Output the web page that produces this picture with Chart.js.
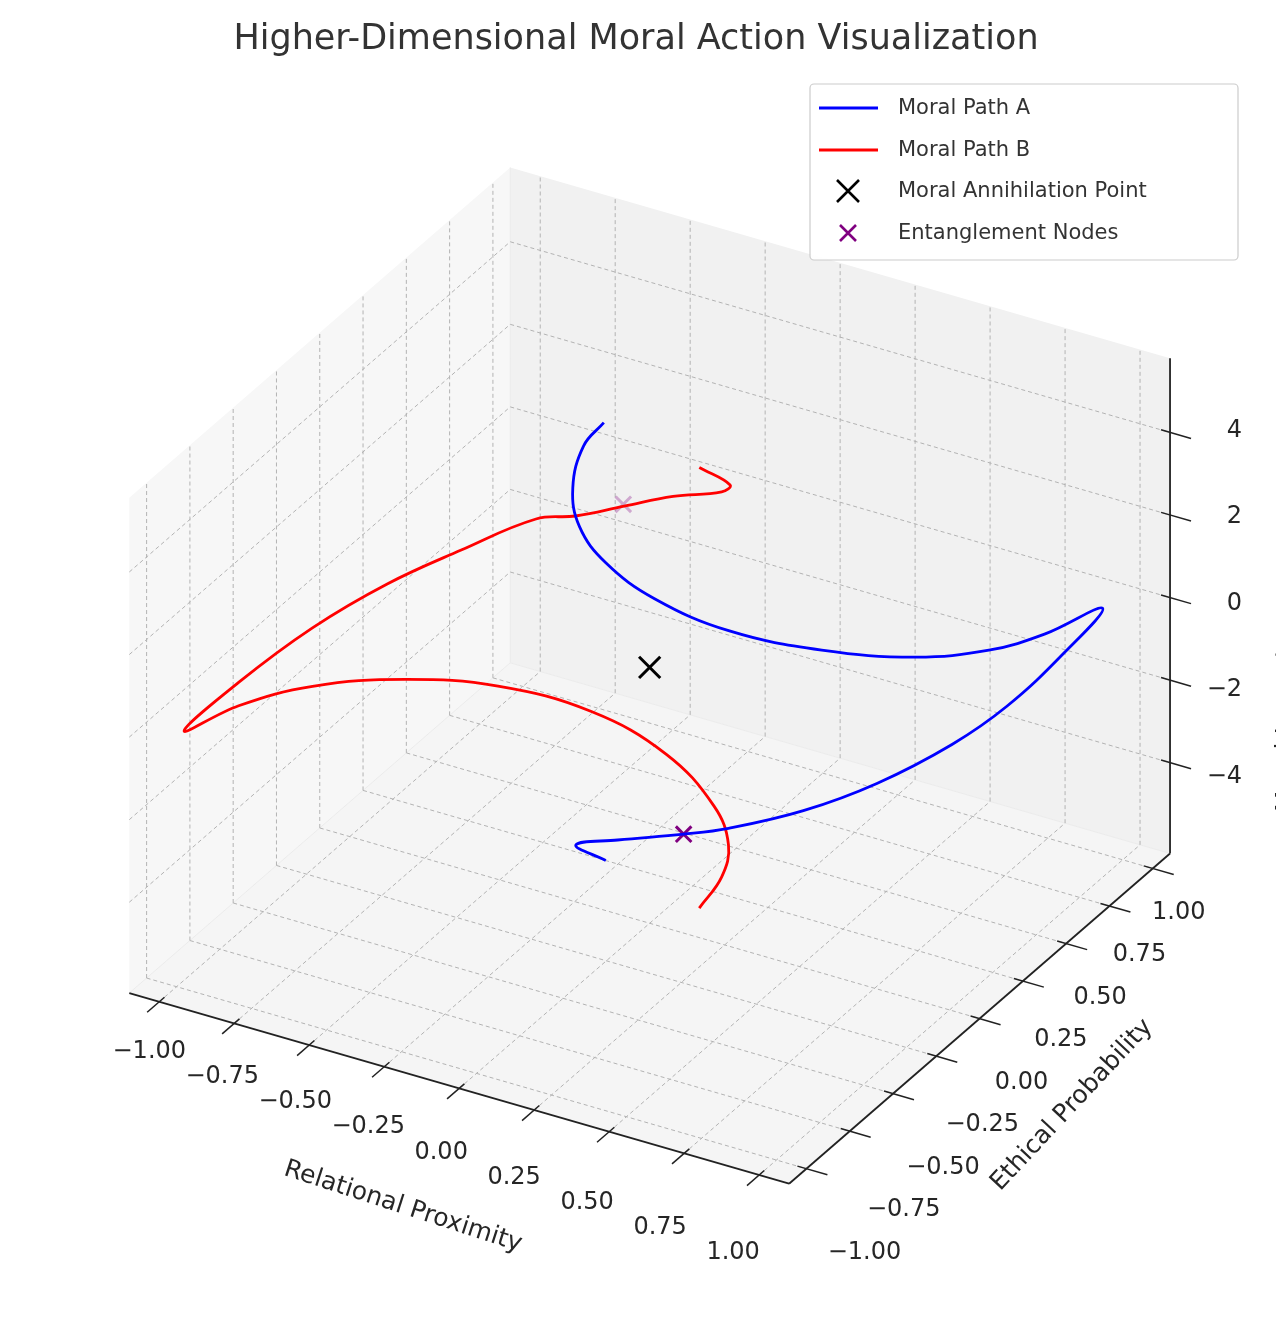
<!DOCTYPE html>
<html>
<head>
<meta charset="utf-8">
<script src="https://cdn.jsdelivr.net/npm/chart.js@4.4.0/dist/chart.umd.min.js"></script>
<style>
  html, body { margin: 0; padding: 0; background: #ffffff; }
  #wrap { width: 1276px; height: 1322px; position: relative; }
</style>
</head>
<body>
<div id="wrap"><canvas id="chart" width="1276" height="1322"></canvas></div>
<script>
// axis limits and ticks
const xLim = [-1.1, 1.1];
const yLim = [-1.1, 1.1];
const zLim = [-6.2, 5.8];
const xTicks = [-1, -0.75, -0.5, -0.25, 0, 0.25, 0.5, 0.75, 1];
const yTicks = [-1, -0.75, -0.5, -0.25, 0, 0.25, 0.5, 0.75, 1];
const zTicks = [-4, -2, 0, 2, 4];

// Moral Path A
const pathAx = [-0.225, -0.265, -0.228, -0.156, -0.043, 0.126, 0.347, 0.579, 0.776, 0.884, 0.921, 0.934,
                0.910, 0.864, 0.780, 0.648, 0.486, 0.293, 0.141, -0.064, -0.211, -0.148];
const pathAy = [0.125, 0.077, -0.049, -0.135, -0.179, -0.190, -0.145, -0.009, 0.189, 0.428, 0.689, 0.998,
                0.815, 0.570, 0.395, 0.190, 0.046, -0.052, -0.048, -0.074, -0.061, 0.003];
const pathAz = [5.0, 4.524, 4.048, 3.571, 3.095, 2.619, 2.143, 1.667, 1.190, 0.714, 0.238, -0.238,
                -0.714, -1.190, -1.667, -2.143, -2.619, -3.095, -3.571, -4.048, -4.524, -5.0];

// Moral Path B
const pathBx = [0.143, 0.214, 0.156, -0.009, -0.160, -0.310, -0.457, -0.611, -0.755, -0.872, -0.956, -1.009,
                -1.002, -0.930, -0.774, -0.580, -0.330, -0.076, 0.135, 0.227, 0.246, 0.223];
const pathBy = [0.039, 0.094, 0.146, 0.151, 0.130, 0.109, 0.135, -0.030, -0.208, -0.437, -0.718, -0.941,
                -0.638, -0.336, -0.069, 0.129, 0.235, 0.228, 0.137, 0.062, -0.010, -0.100];
const pathBz = [5.0, 4.524, 4.048, 3.571, 3.095, 2.619, 2.143, 1.667, 1.190, 0.714, 0.238, -0.238,
                -0.714, -1.190, -1.667, -2.143, -2.619, -3.095, -3.571, -4.048, -4.524, -5.0];

// special points
const annihilation = [0, 0, 0];
const nodesX = [-0.111, 0.141];
const nodesY = [0.040, -0.048];
const nodesZ = [3.571, -3.571];

// view
const elev = 30 * Math.PI / 180;
const azim = -60 * Math.PI / 180;
const boxAspect = [4, 4, 3];
const K = 196, OX = 650, OY = 676, W = 1276, H = 1322;

const n = [Math.cos(elev) * Math.cos(azim), Math.cos(elev) * Math.sin(azim), Math.sin(elev)];
let uv = [-n[1], n[0], 0];
const ul = Math.hypot(uv[0], uv[1]);
uv = uv.map(a => a / ul);
const vv = [n[1] * uv[2] - n[2] * uv[1], n[2] * uv[0] - n[0] * uv[2], n[0] * uv[1] - n[1] * uv[0]];

function norm(val, lim, half) {
    return (val - (lim[0] + lim[1]) / 2) / ((lim[1] - lim[0]) / 2) * half;
}
function proj(x, y, z) {
    const P = [norm(x, xLim, boxAspect[0] / 2), norm(y, yLim, boxAspect[1] / 2), norm(z, zLim, boxAspect[2] / 2)];
    return {
        x: P[0] * uv[0] + P[1] * uv[1] + P[2] * uv[2],
        y: P[0] * vv[0] + P[1] * vv[1] + P[2] * vv[2]
    };
}
function toPts(xs, ys, zs) {
    return xs.map((v, i) => proj(v, ys[i], zs[i]));
}

function fmt(v) {
    const s = Math.abs(v).toFixed(2);
    return v < 0 ? '\u2212' + s : s;
}

const panePlugin = {
    id: 'pane3d',
    beforeDatasetsDraw(chart) {
        const ctx = chart.ctx;
        const sx = chart.scales.x, sy = chart.scales.y;
        const px = (x, y, z) => { const p = proj(x, y, z); return [sx.getPixelForValue(p.x), sy.getPixelForValue(p.y)]; };
        const poly = (pts, fill) => {
            ctx.beginPath();
            pts.forEach((p, i) => { const q = px(...p); i ? ctx.lineTo(q[0], q[1]) : ctx.moveTo(q[0], q[1]); });
            ctx.closePath();
            ctx.fillStyle = fill;
            ctx.fill();
        };
        const line = (a, b) => {
            const p = px(...a), q = px(...b);
            ctx.beginPath(); ctx.moveTo(p[0], p[1]); ctx.lineTo(q[0], q[1]); ctx.stroke();
        };
        const [x0, x1] = xLim, [y0, y1] = yLim, [z0, z1] = zLim;
        ctx.save();
        // panes
        poly([[x0, y0, z0], [x0, y1, z0], [x0, y1, z1], [x0, y0, z1]], '#f7f7f7');
        poly([[x0, y1, z0], [x1, y1, z0], [x1, y1, z1], [x0, y1, z1]], '#f1f1f1');
        poly([[x0, y0, z0], [x1, y0, z0], [x1, y1, z0], [x0, y1, z0]], '#f5f5f5');
        ctx.strokeStyle = '#ebebeb';
        ctx.lineWidth = 1;
        line([x0, y1, z0], [x0, y1, z1]);
        line([x0, y1, z0], [x1, y1, z0]);
        line([x0, y1, z0], [x0, y0, z0]);
        // grid
        ctx.strokeStyle = '#b3b3b3';
        ctx.lineWidth = 1;
        ctx.setLineDash([4, 3]);
        xTicks.forEach(t => { line([t, y1, z0], [t, y1, z1]); line([t, y0, z0], [t, y1, z0]); });
        yTicks.forEach(t => { line([x0, t, z0], [x0, t, z1]); line([x0, t, z0], [x1, t, z0]); });
        zTicks.forEach(t => { line([x0, y0, t], [x0, y1, t]); line([x0, y1, t], [x1, y1, t]); });
        ctx.setLineDash([]);
        // axes
        ctx.strokeStyle = '#222222';
        ctx.lineWidth = 1.8;
        line([x0, y0, z0], [x1, y0, z0]);
        line([x1, y0, z0], [x1, y1, z0]);
        line([x1, y1, z0], [x1, y1, z1]);
        // ticks
        ctx.lineWidth = 1.5;
        xTicks.forEach(t => line([t, y0 + 0.03, z0], [t, y0 - 0.07, z0]));
        yTicks.forEach(t => line([x1 - 0.03, t, z0], [x1 + 0.07, t, z0]));
        zTicks.forEach(t => line([x1 - 0.03, y1, t], [x1 + 0.07, y1, t]));
        // tick labels
        ctx.fillStyle = '#262626';
        ctx.font = '24px "DejaVu Sans"';
        ctx.textAlign = 'center';
        ctx.textBaseline = 'middle';
        xTicks.forEach(t => {
            const p = px(t, y0, z0);
            ctx.fillText(fmt(t), p[0] - 18 - 8 * t, p[1] + 64 + 14 * t);
        });
        yTicks.forEach(t => {
            const p = px(x1, t, z0);
            ctx.fillText(fmt(t), p[0] + 42 - 16 * t, p[1] + 64 - 20 * t);
        });
        ctx.textAlign = 'right';
        zTicks.forEach(t => {
            const p = px(x1, y1, t);
            ctx.fillText(t < 0 ? '\u2212' + Math.abs(t) : String(t), p[0] + 72, p[1] + 6 - 2 * t);
        });
        // axis titles
        ctx.textAlign = 'center';
        ctx.font = '25px "DejaVu Sans"';
        ctx.save();
        ctx.translate(403, 1207);
        ctx.rotate(18 * Math.PI / 180);
        ctx.fillText('Relational Proximity', 0, 0);
        ctx.restore();
        ctx.save();
        ctx.translate(1072, 1105);
        ctx.rotate(-47 * Math.PI / 180);
        ctx.fillText('Ethical Probability', 0, 0);
        ctx.restore();
        ctx.save();
        ctx.translate(1286, 730);
        ctx.rotate(-Math.PI / 2);
        ctx.fillText('Moral Impact', 0, 0);
        ctx.restore();
        ctx.restore();
    },
    afterDraw(chart) {
        const ctx = chart.ctx;
        ctx.save();
        ctx.fillStyle = '#333333';
        ctx.font = '35px "DejaVu Sans"';
        ctx.textAlign = 'center';
        ctx.textBaseline = 'middle';
        ctx.fillText('Higher-Dimensional Moral Action Visualization', 636, 40);
        // legend
        ctx.fillStyle = 'rgba(255,255,255,0.9)';
        ctx.strokeStyle = '#cccccc';
        ctx.lineWidth = 1.2;
        ctx.beginPath();
        ctx.roundRect(810, 84, 428, 176, 4);
        ctx.fill();
        ctx.stroke();
        const rows = [108, 150, 191, 233];
        const labels = ['Moral Path A', 'Moral Path B', 'Moral Annihilation Point', 'Entanglement Nodes'];
        ctx.lineWidth = 2.8;
        ctx.strokeStyle = '#0000ff';
        ctx.beginPath(); ctx.moveTo(819, rows[0]); ctx.lineTo(878, rows[0]); ctx.stroke();
        ctx.strokeStyle = '#ff0000';
        ctx.beginPath(); ctx.moveTo(819, rows[1]); ctx.lineTo(878, rows[1]); ctx.stroke();
        const cross = (cx, cy, r, col, lw) => {
            ctx.strokeStyle = col; ctx.lineWidth = lw;
            ctx.beginPath();
            ctx.moveTo(cx - r, cy - r); ctx.lineTo(cx + r, cy + r);
            ctx.moveTo(cx + r, cy - r); ctx.lineTo(cx - r, cy + r);
            ctx.stroke();
        };
        cross(848, rows[2], 11, '#000000', 2.6);
        cross(848, rows[3], 8, '#800080', 2.6);
        ctx.fillStyle = '#333333';
        ctx.font = '21px "DejaVu Sans"';
        ctx.textAlign = 'left';
        labels.forEach((l, i) => ctx.fillText(l, 898, rows[i] + 1));
        ctx.restore();
    }
};

new Chart(document.getElementById('chart').getContext('2d'), {
    type: 'scatter',
    data: {
        datasets: [
            {
                label: 'Moral Path A',
                data: toPts(pathAx, pathAy, pathAz),
                showLine: true, borderColor: '#0000ff', borderWidth: 2.8,
                pointRadius: 0, tension: 0.4, fill: false
            },
            {
                label: 'Moral Path B',
                data: toPts(pathBx, pathBy, pathBz),
                showLine: true, borderColor: '#ff0000', borderWidth: 2.8,
                pointRadius: 0, tension: 0.4, fill: false
            },
            {
                label: 'Moral Annihilation Point',
                data: [proj(annihilation[0], annihilation[1], annihilation[2])],
                pointStyle: 'crossRot', pointRadius: 15, borderColor: '#000000', borderWidth: 3
            },
            {
                label: 'Entanglement Nodes',
                data: toPts(nodesX, nodesY, nodesZ),
                pointStyle: 'crossRot', pointRadius: 11, borderWidth: 3,
                borderColor: ['rgba(128,0,128,0.3)', '#800080']
            }
        ]
    },
    options: {
        responsive: false,
        animation: false,
        devicePixelRatio: 1,
        layout: { padding: 0 },
        plugins: { legend: { display: false }, tooltip: { enabled: false }, title: { display: false } },
        scales: {
            x: { type: 'linear', display: false, min: -OX / K, max: (W - OX) / K },
            y: { type: 'linear', display: false, min: -(H - OY) / K, max: OY / K }
        }
    },
    plugins: [panePlugin]
});
</script>
</body>
</html>
